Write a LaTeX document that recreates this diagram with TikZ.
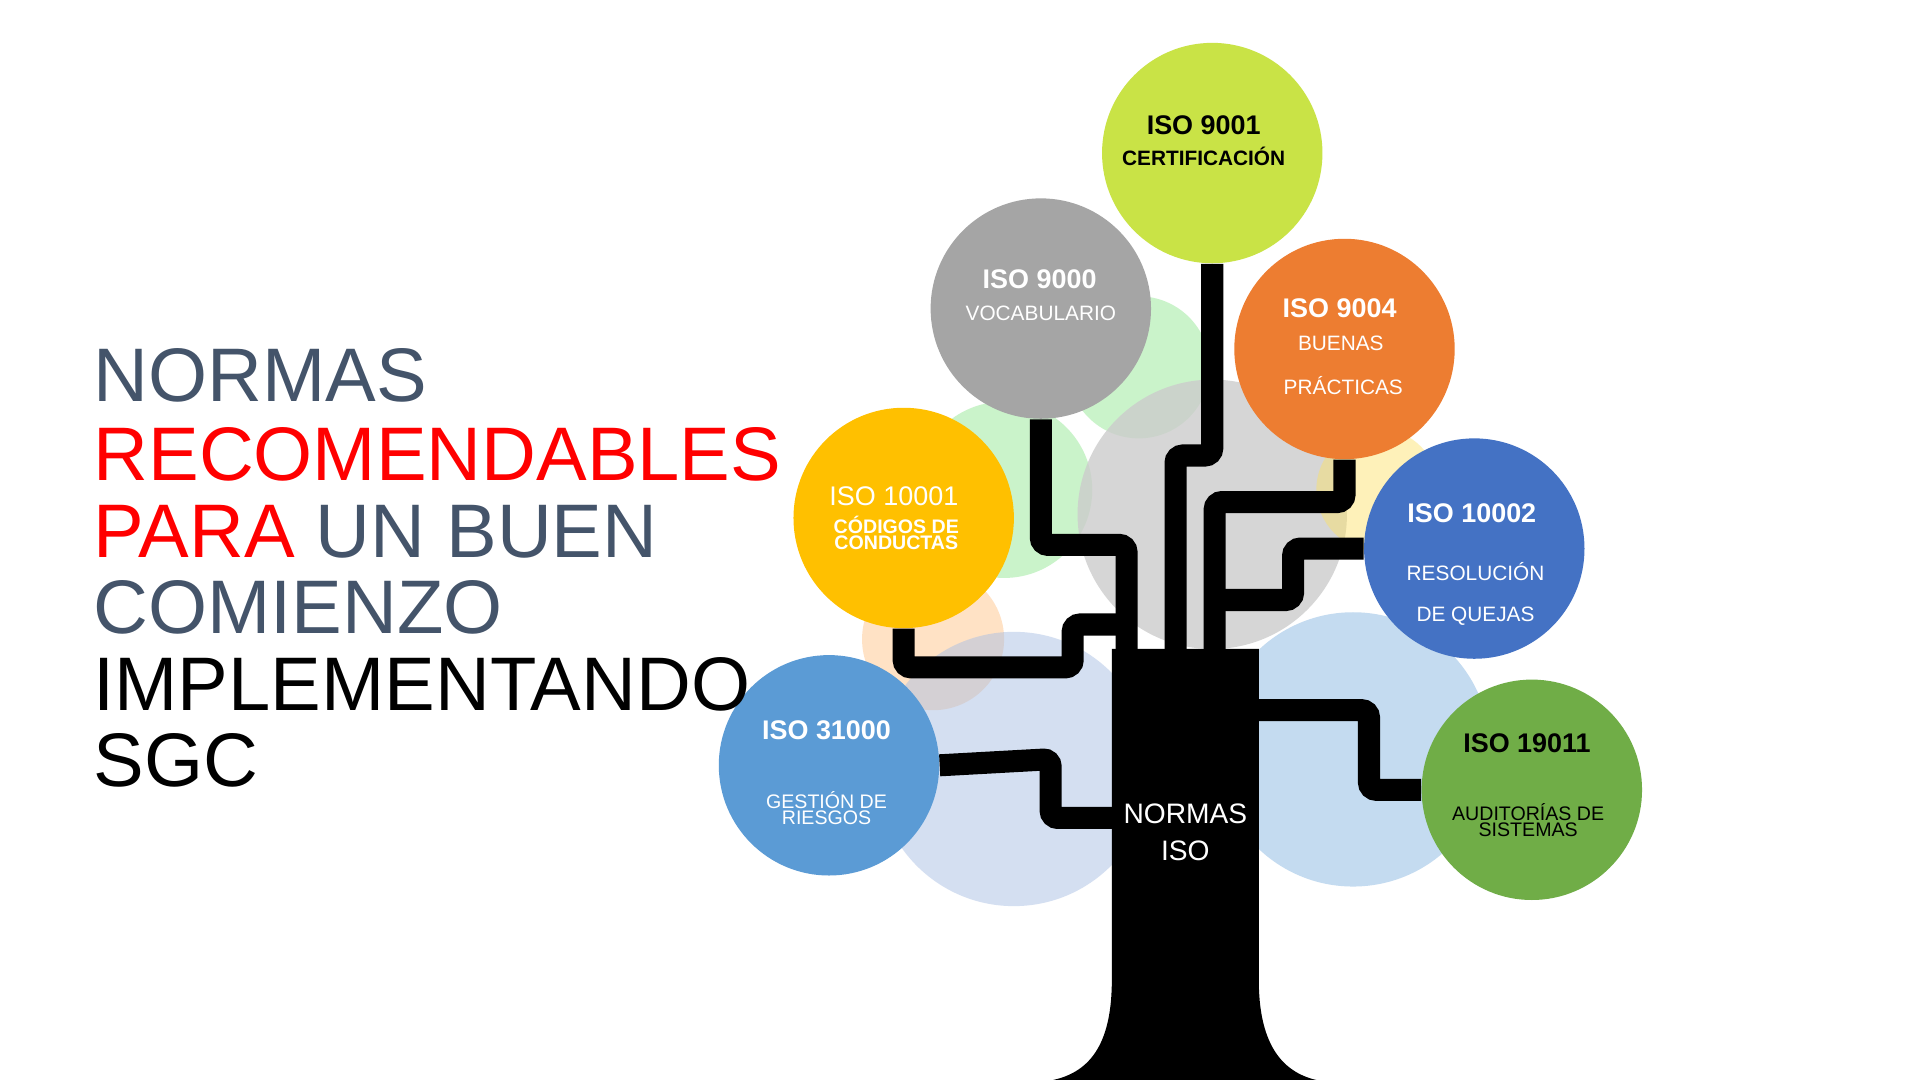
\documentclass[tikz,border=0pt]{standalone}
\usepackage{fontspec}
\setmainfont{Liberation Sans}
\definecolor{ttl}{HTML}{44546A}
\definecolor{c9001}{HTML}{C9E346}
\definecolor{c9000}{HTML}{A5A5A5}
\definecolor{c9004}{HTML}{ED7D31}
\definecolor{c10001}{HTML}{FFC000}
\definecolor{c10002}{HTML}{4472C4}
\definecolor{c31000}{HTML}{5B9BD5}
\definecolor{c19011}{HTML}{70AD47}
\begin{document}
\begin{tikzpicture}[x=0.5pt,y=-0.5pt,
  iso/.style={circle,minimum size=90pt,inner sep=0pt},
  bg/.style={circle,inner sep=0pt,opacity=0.45},
  br/.style={line width=9pt,rounded corners=3pt},
  tt/.style={font=\fontsize{31}{36}\selectfont,anchor=base west,inner sep=0pt},
  hd/.style={font=\bfseries\fontsize{11}{13}\selectfont,inner sep=0pt},
  sb/.style={font=\fontsize{8.5}{10}\selectfont,inner sep=0pt},
  sbt/.style={font=\fontsize{8}{6.5}\selectfont,inner sep=0pt,align=center}]
\useasboundingbox[fill=white] (0,0) rectangle (1568,882);
% background circles
\node[bg,fill=green!40!white!90!black,minimum size=58pt] (b1) at (930,300) {};
\node[bg,fill=green!40!white!90!black,minimum size=72pt] (b2) at (820,400) {};
\node[bg,fill=gray!40,minimum size=110pt,opacity=0.8] (b3) at (990,420) {};
\node[bg,fill=orange!50,minimum size=58pt] (b4) at (762,522) {};
\node[bg,fill=yellow!70!orange!60,minimum size=50pt] (b5) at (1125,400) {};
\node[bg,fill=c10002!45,minimum size=112pt,opacity=0.5] (b6) at (828,628) {};
\node[bg,fill=c31000!60,minimum size=112pt,opacity=0.6] (b7) at (1105,612) {};
% trunk
\fill (908,530) -- (1028,530) -- (1028,800) .. controls (1028,850) and (1045,875) .. (1075,882)
  -- (860,882) .. controls (892,875) and (908,850) .. (908,800) -- cycle;
\node[inner sep=0pt,minimum width=60pt,minimum height=150pt] (trunk) at (968,680) {};
% circles
\node[iso,fill=c9001] (n9001) at (990,125) {};
\node[iso,fill=c9000] (n9000) at (850,252) {};
\node[iso,fill=c9004] (n9004) at (1098,285) {};
\node[iso,fill=c10001] (n10001) at (738,423) {};
\node[iso,fill=c10002] (n10002) at (1204,448) {};
\node[iso,fill=c31000] (n31000) at (677,625) {};
\node[iso,fill=c19011] (n19011) at (1251,645) {};
% branches
\draw[br] (n9001.south) -- (990,372) -- (960,372) -- (960,532);
\draw[br] (n9000.south) -- (850,445) -- (920,445) -- (920,532);
\draw[br] (n9004.south) -- (1098,410) -- (992,410) -- (992,532);
\draw[br] (n10002.west) -- (1056,448) -- (1056,490) -- (996,490);
\draw[br] (n10001.south) -- (738,545) -- (876,545) -- (876,510) -- (912,510);
\draw[br] (n31000.east) -- (858,620) -- (858,668) -- (912,668);
\draw[br] (1024,580) -- (1118,580) -- (1118,645) -- (n19011.west);
% trunk label
\node[text=white,font=\fontsize{11.5}{15}\selectfont,align=center] at (trunk) {NORMAS\\ISO};
% circle texts
\node[hd] at (983,102) {ISO 9001};
\node[sb,font=\bfseries\fontsize{8.5}{10}\selectfont] at (983,128) {CERTIFICACIÓN};
\node[hd,text=white] at (849,228) {ISO 9000};
\node[sb,text=white] at (850,256) {VOCABULARIO};
\node[hd,text=white] at (1094,252) {ISO 9004};
\node[sb,text=white] at (1095,280) {BUENAS};
\node[sb,text=white] at (1097,315) {PRÁCTICAS};
\node[text=white,font=\fontsize{11}{13}\selectfont,inner sep=0pt] at (730,405) {ISO 10001};
\node[sbt,text=white,font=\bfseries\fontsize{8}{6.5}\selectfont] at (732,435) {CÓDIGOS DE\\CONDUCTAS};
\node[hd,text=white] at (1202,419) {ISO 10002};
\node[sb,text=white] at (1205,467) {RESOLUCIÓN};
\node[sb,text=white] at (1205,503) {DE QUEJAS};
\node[hd,text=white] at (675,596) {ISO 31000};
\node[sbt,text=white] at (675,660) {GESTIÓN DE\\RIESGOS};
\node[hd] at (1247,607) {ISO 19011};
\node[sbt] at (1248,670) {AUDITORÍAS DE\\SISTEMAS};
% title
\node[tt,text=ttl] (t1) at (76,328) {NORMAS};
\node[tt,text=red] (t2) at (76,392) {RECOMENDABLES};
\node[tt] (t3) at (76,455) {\textcolor{red}{PARA} \textcolor{ttl}{UN BUEN}};
\node[tt,text=ttl] (t4) at (76,517) {COMIENZO};
\node[tt] (t5) at (76,580) {IMPLEMENTANDO};
\node[tt] (t6) at (76,642) {SGC};
\end{tikzpicture}
\end{document}
